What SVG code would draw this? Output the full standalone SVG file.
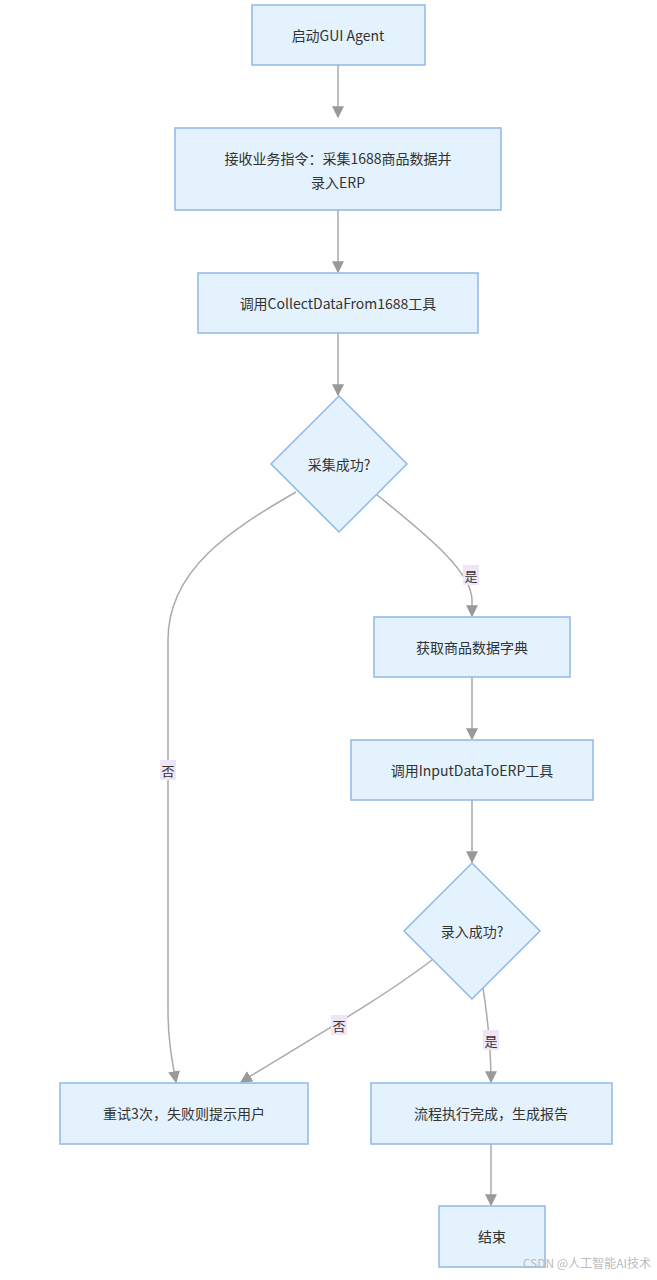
<svg xmlns="http://www.w3.org/2000/svg" width="657" height="1280" viewBox="0 0 657 1280">
<style>
.n{fill:#e3f2fc;stroke:#8fb8e6;stroke-width:1.5}
.t{font-family:"Noto Sans CJK SC","Noto Sans",sans-serif;font-size:14px;fill:#333;text-anchor:middle;dominant-baseline:central}
.e{fill:none;stroke:#aaa;stroke-width:1.5}
.lb{fill:#eee6f7}
.l{font-family:"Noto Sans CJK SC",sans-serif;font-size:13px;fill:#333;text-anchor:middle;dominant-baseline:central}
</style>
<defs><marker id="a" viewBox="0 0 10 10" refX="9" refY="5" markerWidth="8" markerHeight="8" orient="auto"><path d="M0,0L10,5L0,10z" fill="#999"/></marker></defs>
<rect width="657" height="1280" fill="#fff"/>
<g id="edges">
<path class="e" d="M338,65V117" marker-end="url(#a)"/>
<path class="e" d="M338,210V272" marker-end="url(#a)"/>
<path class="e" d="M338,333V395" marker-end="url(#a)"/>
<path class="e" d="M296,492C230,530 168,570 168,640V1010C168,1040 172,1060 176,1082" marker-end="url(#a)"/>
<path class="e" d="M376,494C420,530 472,570 472,600V616" marker-end="url(#a)"/>
<path class="e" d="M472,677V739" marker-end="url(#a)"/>
<path class="e" d="M472,800V862" marker-end="url(#a)"/>
<path class="e" d="M432,960C380,1000 300,1045 241,1082" marker-end="url(#a)"/>
<path class="e" d="M483,988C488,1020 491,1050 491,1082" marker-end="url(#a)"/>
<path class="e" d="M491,1144V1205" marker-end="url(#a)"/>
<rect class="lb" x="160" y="760" width="16" height="20"/><text class="l" x="168" y="770">否</text>
<rect class="lb" x="463" y="565" width="16" height="20"/><text class="l" x="471" y="575">是</text>
<rect class="lb" x="331" y="1015" width="16" height="20"/><text class="l" x="339" y="1025">否</text>
<rect class="lb" x="483" y="1030" width="16" height="20"/><text class="l" x="491" y="1040">是</text>
</g>
<g id="n1"><rect class="n" x="252" y="5" width="173" height="60"/><text class="t" x="338" y="35">启动GUI Agent</text></g>
<g id="n2"><rect class="n" x="175" y="128" width="326" height="82"/><text class="t" x="338" y="158">接收业务指令：采集1688商品数据并</text><text class="t" x="338" y="182">录入ERP</text></g>
<g id="n3"><rect class="n" x="198" y="273" width="280" height="60"/><text class="t" x="338" y="303">调用CollectDataFrom1688工具</text></g>
<g id="d1"><path class="n" d="M339,396L407,464L339,532L271,464Z"/><text class="t" x="339" y="464">采集成功?</text></g>
<g id="n4"><rect class="n" x="374" y="617" width="196" height="60"/><text class="t" x="472" y="647">获取商品数据字典</text></g>
<g id="n5"><rect class="n" x="351" y="740" width="242" height="60"/><text class="t" x="472" y="770">调用InputDataToERP工具</text></g>
<g id="d2"><path class="n" d="M472,863L540,931L472,999L404,931Z"/><text class="t" x="472" y="931">录入成功?</text></g>
<g id="n6"><rect class="n" x="60" y="1083" width="248" height="61"/><text class="t" x="184" y="1113">重试3次，失败则提示用户</text></g>
<g id="n7"><rect class="n" x="371" y="1083" width="241" height="61"/><text class="t" x="491" y="1113">流程执行完成，生成报告</text></g>
<g id="n8"><rect class="n" x="439" y="1206" width="106" height="61"/><text class="t" x="492" y="1236">结束</text></g>
<text x="651" y="1268" font-family="Noto Sans CJK SC,sans-serif" font-size="12" fill="#bbb" text-anchor="end">CSDN @人工智能AI技术</text>
</svg>
